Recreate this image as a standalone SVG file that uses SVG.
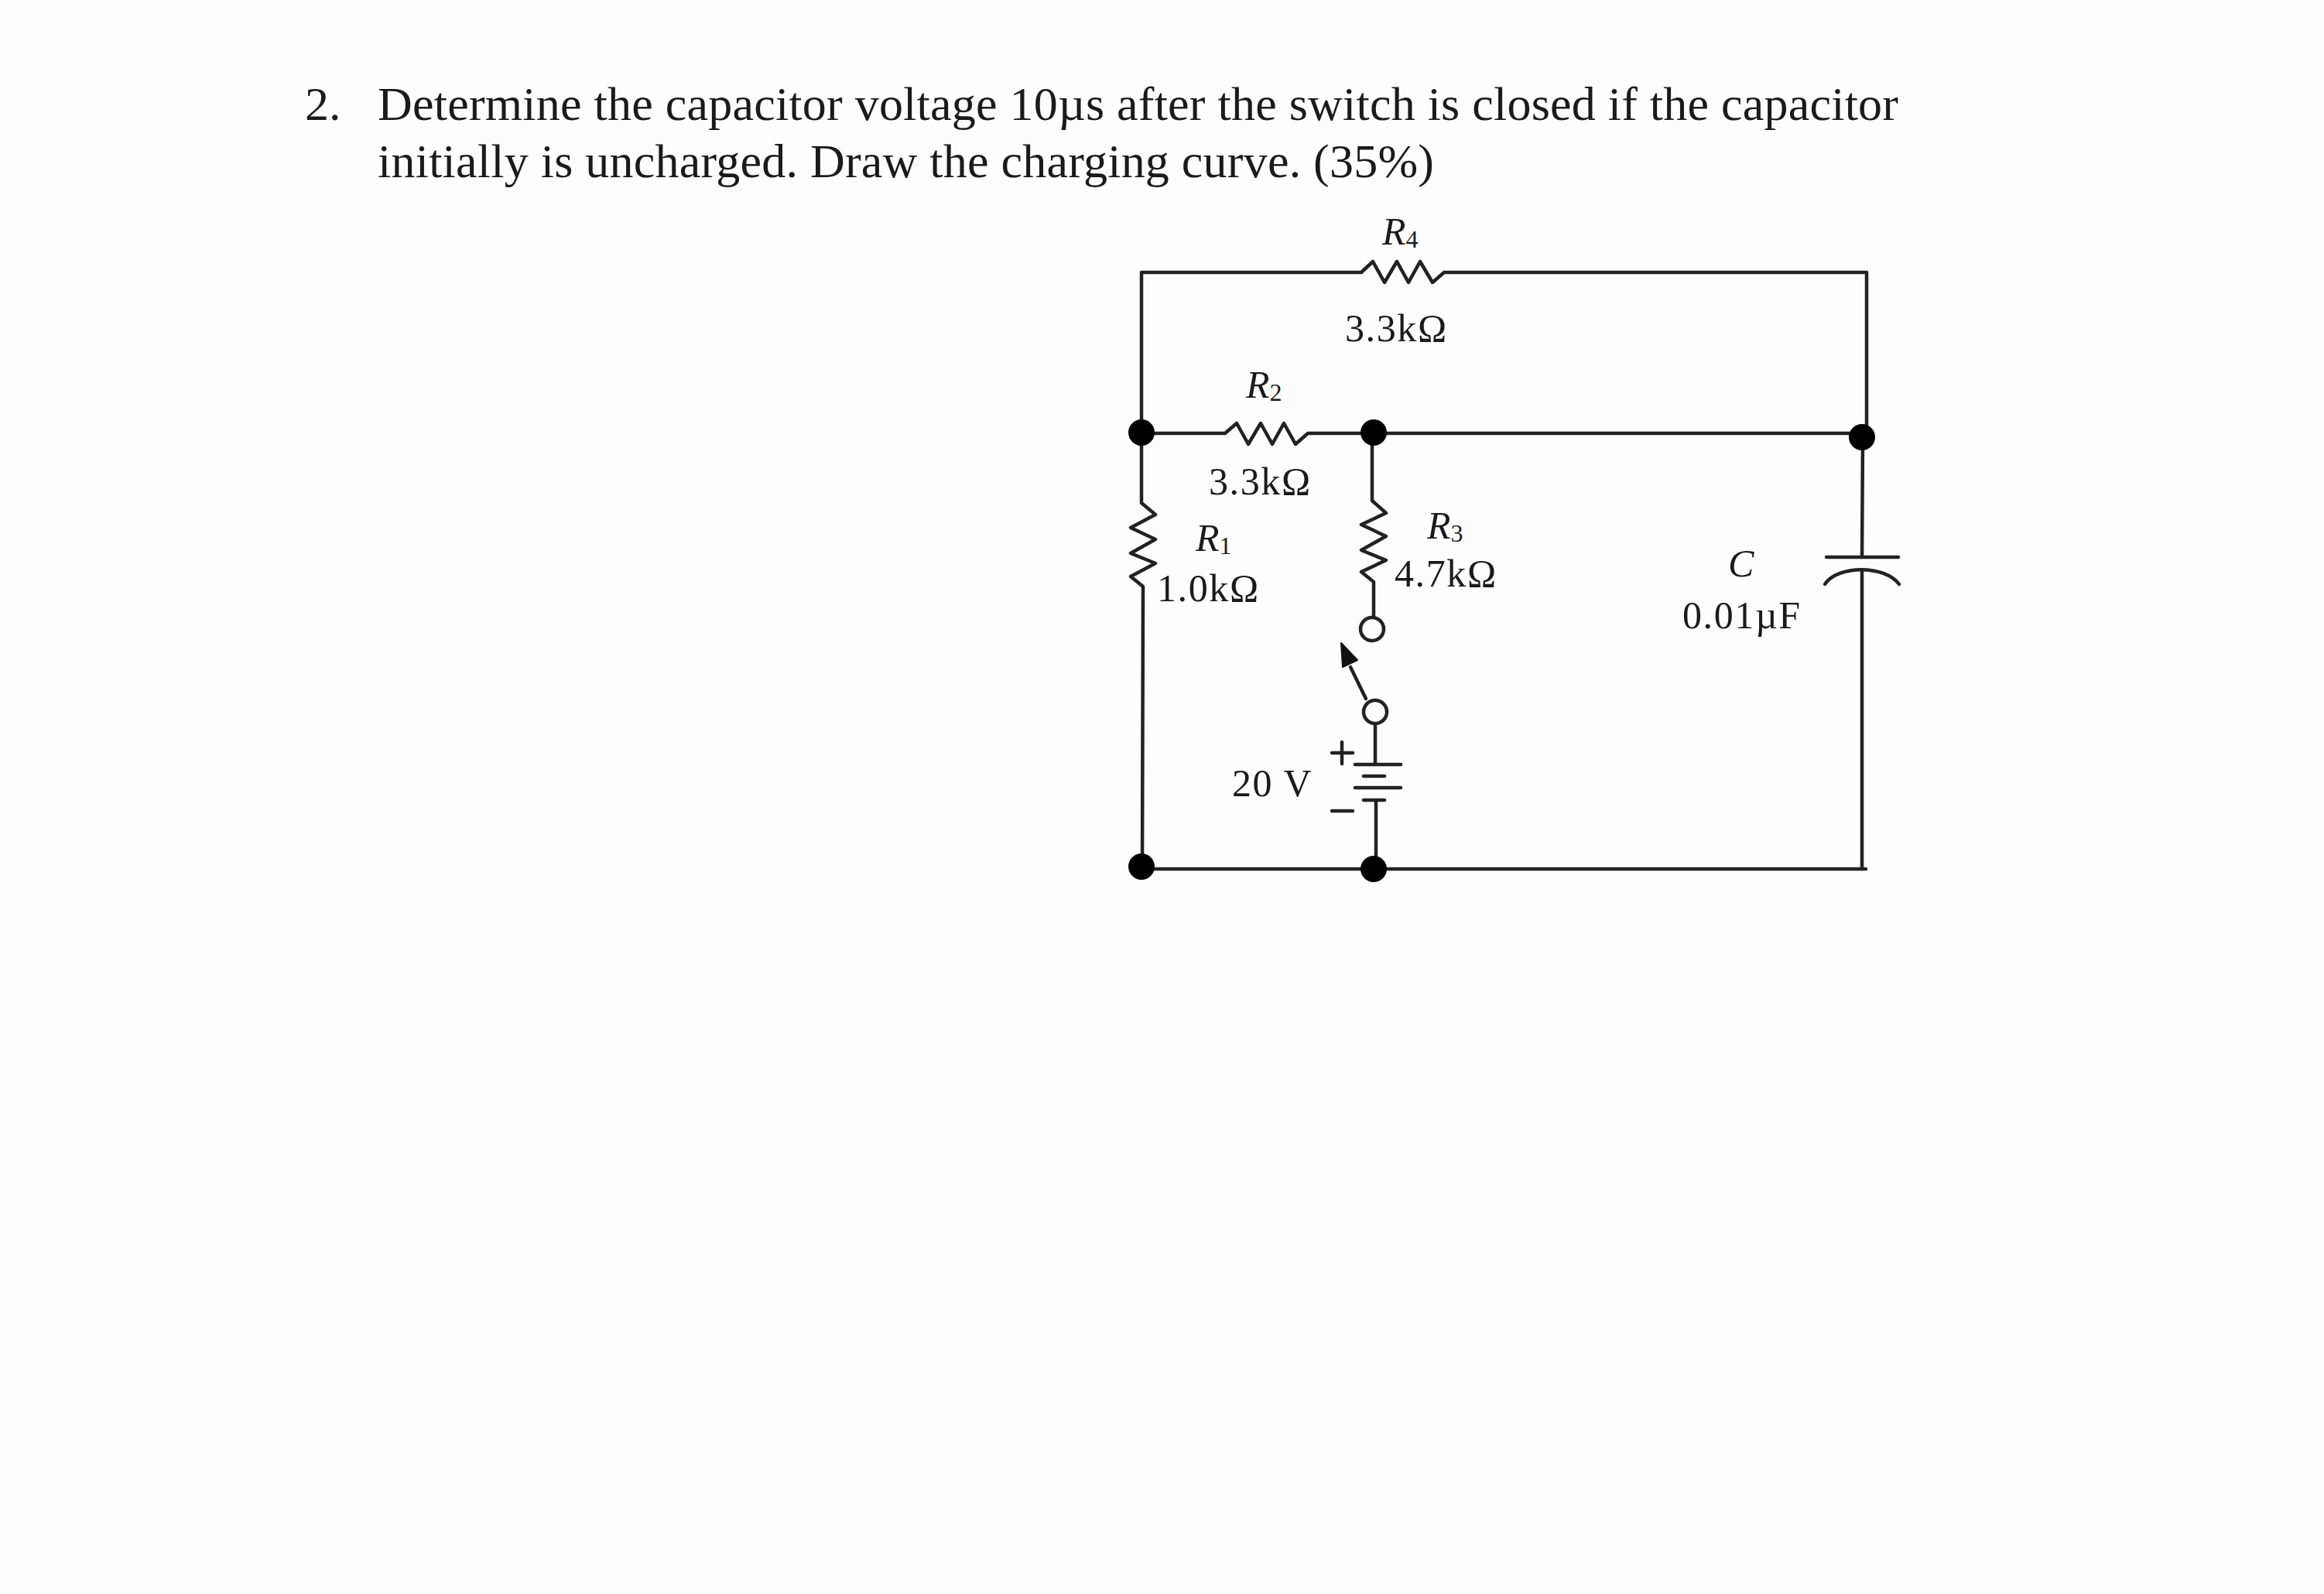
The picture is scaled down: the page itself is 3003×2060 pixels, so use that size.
<svg xmlns="http://www.w3.org/2000/svg" width="3003" height="2060" viewBox="0 0 3003 2060">
<style>
text{font-family:"Liberation Serif","Times New Roman",serif;fill:#1a1a1a}
.q{font-size:62px}
.v{font-size:50px;letter-spacing:1.6px}
.r{font-size:50px;font-style:italic}
.s{font-size:32px;font-style:normal}
.w{fill:none;stroke:#222;stroke-width:4.5;stroke-linejoin:round;stroke-linecap:round}
.d{fill:#000}
.o{fill:#fdfdfd;stroke:#222;stroke-width:4.5}
</style>
<rect width="3003" height="2060" fill="#fdfdfd"/>
<g id="question">
<text class="q" x="394" y="155">2.</text>
<text class="q" x="488" y="155" textLength="1965">Determine the capacitor voltage 10µs after the switch is closed if the capacitor</text>
<text class="q" x="488" y="229" textLength="1365">initially is uncharged. Draw the charging curve. (35%)</text>
</g>
<g id="connectors">
<path class="w" d="M1475 559V352H1759L1774 338L1789 365L1805 338L1820 365L1835 338L1851 365L1866 352H2412V565"/>
<path class="w" d="M1475 560H1583L1598 547L1613 574L1629 547L1644 574L1659 547L1674 574L1690 560H2406"/>
<path class="w" d="M1475 559V648M1475 650L1493 665L1461 682L1493 697L1461 715L1493 728L1461 745L1477 758L1476 1123H2411"/>
<path class="w" d="M1773 559V647L1791 663L1759 678L1791 693L1759 711L1791 724L1759 739L1775 752V798"/>
<path class="w" d="M2407 565L2406 720"/>
<path class="w" d="M2406 737V1123"/>
<path class="w" d="M1777 936V988"/>
<path class="w" d="M1778 1034V1123"/>
<path class="w" d="M1765 903L1745 862"/>
<path d="M1733 831L1754 853L1735 862Z" fill="#111" stroke="#111" stroke-width="2" stroke-linejoin="round"/>
</g>
<g id="node-a"><circle class="d" cx="1475" cy="559" r="17"/></g>
<g id="node-b"><circle class="d" cx="1775" cy="559" r="17"/></g>
<g id="node-c"><circle class="d" cx="2406" cy="565" r="17"/></g>
<g id="node-d"><circle class="d" cx="1475" cy="1120" r="17"/></g>
<g id="node-e"><circle class="d" cx="1775" cy="1123" r="17"/></g>
<g id="switch">
<circle class="o" cx="1773" cy="813" r="15"/>
<circle class="o" cx="1777" cy="920" r="15"/>
</g>
<g id="battery">
<path class="w" d="M1751 988H1810M1762 1003H1789M1751 1018H1810M1762 1034H1789"/>
<path class="w" d="M1721 973H1748M1734 959V987M1721 1048H1748"/>
<text class="v" x="1592" y="1029">20 V</text>
</g>
<g id="capacitor">
<path class="w" d="M2360 720H2453"/>
<path class="w" d="M2358 755C2375 730 2435 730 2454 755"/>
<text class="r" x="2233" y="745">C</text>
<text class="v" x="2174" y="812">0.01µF</text>
</g>
<g id="r4"><text class="r" x="1786" y="316">R<tspan class="s" dy="4">4</tspan></text><text class="v" x="1738" y="441">3.3kΩ</text></g>
<g id="r2"><text class="r" x="1610" y="514">R<tspan class="s" dy="4">2</tspan></text><text class="v" x="1562" y="639">3.3kΩ</text></g>
<g id="r1"><text class="r" x="1545" y="712">R<tspan class="s" dy="4">1</tspan></text><text class="v" x="1495" y="777">1.0kΩ</text></g>
<g id="r3"><text class="r" x="1844" y="696">R<tspan class="s" dy="4">3</tspan></text><text class="v" x="1802" y="758">4.7kΩ</text></g>
</svg>
